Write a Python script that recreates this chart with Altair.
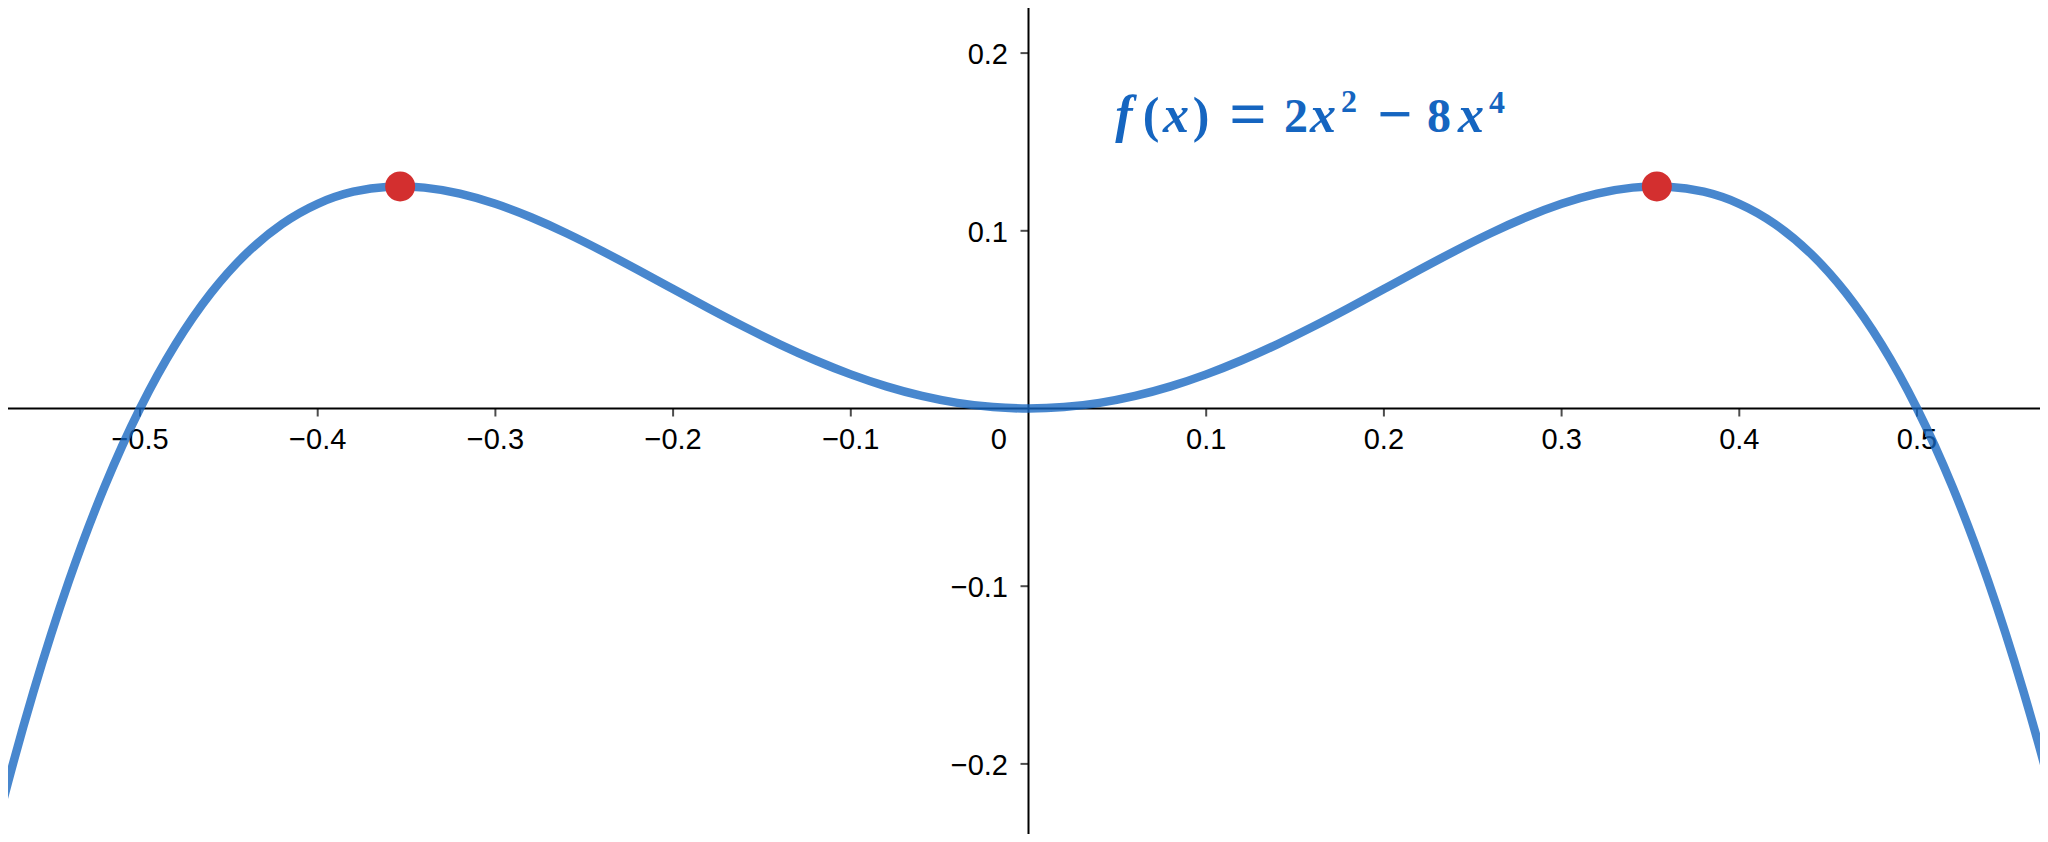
import altair as alt
import pandas as pd

# ---------------- data ----------------
CURVE_X = [-0.60, -0.58, -0.56, -0.54, -0.52, -0.50, -0.48, -0.46, -0.44, -0.42,
           -0.40, -0.38, -0.36, -0.34, -0.32, -0.30, -0.28, -0.26, -0.24, -0.22,
           -0.20, -0.18, -0.16, -0.14, -0.12, -0.10, -0.08, -0.06, -0.04, -0.02,
           0.00,
           0.02, 0.04, 0.06, 0.08, 0.10, 0.12, 0.14, 0.16, 0.18, 0.20,
           0.22, 0.24, 0.26, 0.28, 0.30, 0.32, 0.34, 0.36, 0.38, 0.40,
           0.42, 0.44, 0.46, 0.48, 0.50, 0.52, 0.54, 0.56, 0.58, 0.60]
CURVE_Y = [-0.316800, -0.232520, -0.159560, -0.097044, -0.044129, 0.000000,
           0.036127, 0.065004, 0.087352, 0.103864, 0.115200, 0.121989, 0.124831,
           0.124293, 0.120914, 0.115200, 0.107628, 0.098642, 0.088658, 0.078060,
           0.067200, 0.056402, 0.045957, 0.036127, 0.027141, 0.019200, 0.012472,
           0.007096, 0.003180, 0.000799,
           0.000000,
           0.000799, 0.003180, 0.007096, 0.012472, 0.019200, 0.027141, 0.036127,
           0.045957, 0.056402, 0.067200, 0.078060, 0.088658, 0.098642, 0.107628,
           0.115200, 0.120914, 0.124293, 0.124831, 0.121989, 0.115200, 0.103864,
           0.087352, 0.065004, 0.036127, 0.000000, -0.044129, -0.097044,
           -0.159560, -0.232520, -0.316800]

MAX_X = [-0.3536, 0.3536]
MAX_Y = [0.125, 0.125]

XTICKS = [-0.5, -0.4, -0.3, -0.2, -0.1, 0.1, 0.2, 0.3, 0.4, 0.5]
XTICK_LABELS = ["−0.5", "−0.4", "−0.3", "−0.2", "−0.1", "0.1", "0.2", "0.3", "0.4", "0.5"]
YTICKS = [0.2, 0.1, -0.1, -0.2]
YTICK_LABELS = ["0.2", "0.1", "−0.1", "−0.2"]

# ---------------- layout ----------------
W, H = 2032, 826           # plot area (page pixels 8..2040, 8..834)
PX_PER_UNIT = 1777.0
ORIGIN_X, ORIGIN_Y = 1028.5 - 8, 408.5 - 8   # origin inside plot area
XDOM = [-ORIGIN_X / PX_PER_UNIT, (W - ORIGIN_X) / PX_PER_UNIT]
YDOM = [-(H - ORIGIN_Y) / PX_PER_UNIT, ORIGIN_Y / PX_PER_UNIT]

xs = alt.Scale(domain=XDOM, nice=False, zero=False)
ys = alt.Scale(domain=YDOM, nice=False, zero=False)

curve_df = pd.DataFrame({"x": CURVE_X, "y": CURVE_Y})
max_df = pd.DataFrame({"x": MAX_X, "y": MAX_Y})
xt_df = pd.DataFrame({"x": XTICKS, "label": XTICK_LABELS, "y": [0.0] * len(XTICKS)})
yt_df = pd.DataFrame({"y": YTICKS, "label": YTICK_LABELS, "x": [0.0] * len(YTICKS)})
zero_df = pd.DataFrame({"x": [0.0], "y": [0.0], "label": ["0"]})

AX = alt.X("x:Q", scale=xs, axis=None)
AY = alt.Y("y:Q", scale=ys, axis=None)

LABEL_FONT = "Liberation Sans"
LABEL_SIZE = 29

x_axis = alt.Chart(zero_df).mark_rule(color="black", strokeWidth=2).encode(y=AY)
y_axis = alt.Chart(zero_df).mark_rule(color="black", strokeWidth=2).encode(x=AX)

x_ticks = alt.Chart(xt_df).mark_tick(orient="vertical", size=8, thickness=2,
                                     yOffset=4, color="black").encode(x=AX, y=AY)
y_ticks = alt.Chart(yt_df).mark_tick(orient="horizontal", size=8, thickness=2,
                                     xOffset=-4, color="black").encode(x=AX, y=AY)

x_labels = alt.Chart(xt_df).mark_text(font=LABEL_FONT, fontSize=LABEL_SIZE, align="center",
                                      baseline="alphabetic", dy=40.5, color="black").encode(
    x=AX, y=AY, text="label:N")
y_labels = alt.Chart(yt_df).mark_text(font=LABEL_FONT, fontSize=LABEL_SIZE, align="right",
                                      baseline="alphabetic", dx=-20.5, dy=11, color="black").encode(
    x=AX, y=AY, text="label:N")
zero_label = alt.Chart(zero_df).mark_text(font=LABEL_FONT, fontSize=LABEL_SIZE, align="right",
                                          baseline="alphabetic", dx=-21.5, dy=40.5, color="black").encode(
    x=AX, y=AY, text="label:N")

curve = alt.Chart(curve_df).mark_line(color="#1565C0", opacity=0.78, strokeWidth=8.5,
                                      interpolate="natural", clip=True).encode(x=AX, y=AY)
points = alt.Chart(max_df).mark_point(filled=True, shape="circle", size=900, opacity=1,
                                      color="#D32F2F").encode(x=AX, y=AY)

# formula f(x) = 2x² − 8x⁴ : pieces placed at ink centres (page px), baseline in page px
FORM_COLOR = "#1565C0"
FORM_FONT = "Liberation Serif"
pieces = [
    ("f", 1124, 131.7, 52, "italic"),
    ("(", 1151, 131.7, 50, "normal"),
    ("x", 1176, 131.7, 52, "italic"),
    (")", 1201, 131.7, 50, "normal"),
    ("=", 1248, 136.0, 66, "normal"),
    ("2", 1296, 131.7, 48, "normal"),
    ("x", 1323, 131.7, 52, "italic"),
    ("2", 1349, 111.7, 32, "normal"),
    ("−", 1395, 135.0, 62, "normal"),
    ("8", 1439, 131.7, 48, "normal"),
    ("x", 1471, 131.7, 52, "italic"),
    ("4", 1497, 113.0, 32, "normal"),
]
formula_layers = []
for txt, cx, by, fs, style in pieces:
    formula_layers.append(
        alt.Chart(zero_df).mark_text(text=txt, font=FORM_FONT, fontSize=fs, fontWeight="bold",
                                     fontStyle=style, align="center", baseline="alphabetic",
                                     color=FORM_COLOR).encode(
            x=alt.value(cx - 8), y=alt.value(by - 8))
    )

chart = alt.layer(
    x_labels, y_labels, zero_label,
    x_axis, y_axis, x_ticks, y_ticks,
    curve, points,
    *formula_layers,
).properties(
    width=W, height=H, padding=0, background="white",
    autosize=alt.AutoSizeParams(type="none"),
).configure_view(strokeWidth=0, stroke=None)

chart.save("out.html", embed_options={"renderer": "svg", "actions": False})
